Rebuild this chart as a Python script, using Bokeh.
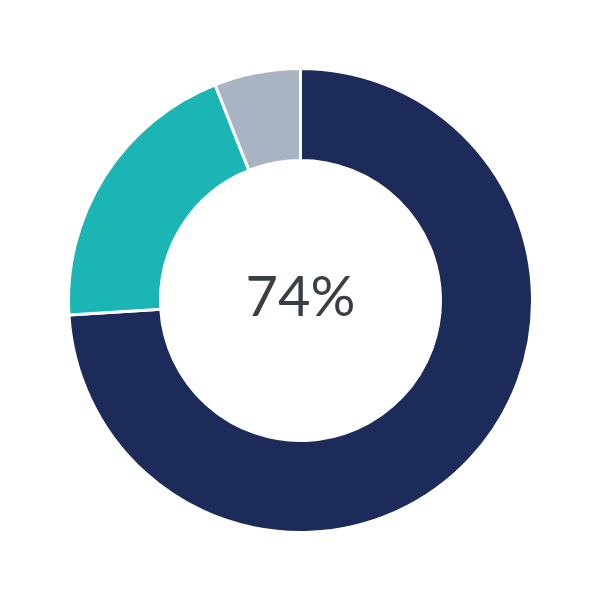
import math
from bokeh.plotting import figure
from bokeh.models import ColumnDataSource, Range1d
from bokeh.core.properties import value
from bokeh.embed import file_html
from bokeh.resources import INLINE

categories = ["A", "B", "C"]
values = [74, 20, 6]
colors = ["#1c2b5a", "#1bb5b6", "#a8b3c3"]
center_label = "74%"

total = sum(values)
starts, ends = [], []
acc = 0.0
for v in values:
    a0 = math.pi / 2 - 2 * math.pi * acc / total
    acc += v
    a1 = math.pi / 2 - 2 * math.pi * acc / total
    starts.append(a0)
    ends.append(a1)

src = ColumnDataSource(dict(cat=categories, val=values, color=colors, start=starts, end=ends))

p = figure(width=584, height=584, output_backend="svg", toolbar_location=None,
           x_range=Range1d(-300, 284), y_range=Range1d(-284, 300), min_border=0)
p.axis.visible = False
p.grid.visible = False
p.outline_line_color = None
p.background_fill_color = "white"

p.annular_wedge(x=0, y=0, inner_radius=140, outer_radius=232,
                start_angle="start", end_angle="end", direction="clock",
                fill_color="color", line_color="white", line_width=3, source=src)

p.text(x=[0], y=[6], text=[center_label], text_align="center", text_baseline="middle",
       text_font=value("Lato"), text_font_size="56px", text_color="#3a3f47")

open("out.html", "w").write(file_html(p, INLINE))
